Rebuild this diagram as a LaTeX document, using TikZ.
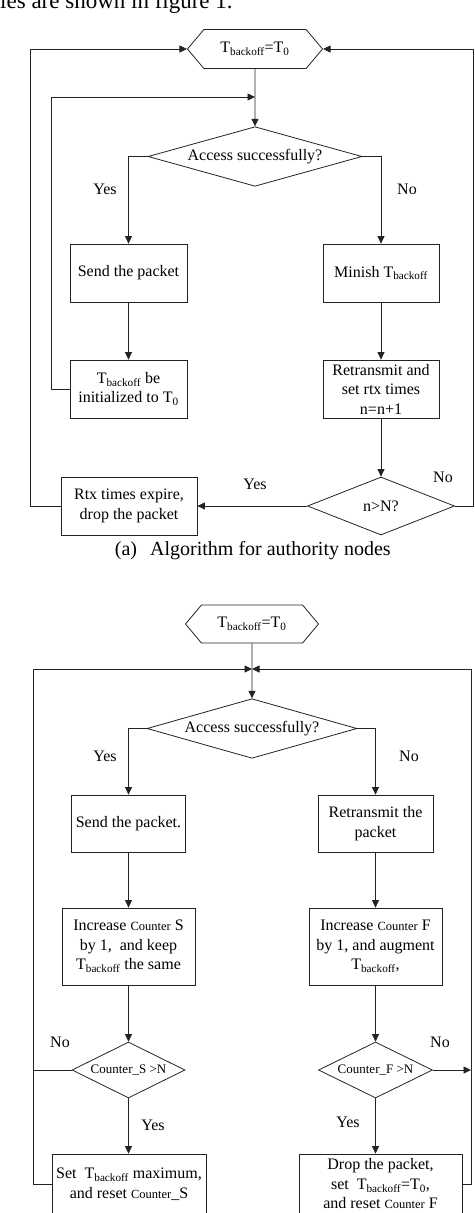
\documentclass[tikz,border=0pt]{standalone}
\usepackage{fontspec}
\setmainfont{Liberation Serif}
\usetikzlibrary{arrows.meta, positioning, shapes.geometric, shapes.symbols}
\definecolor{flowgray}{RGB}{35,35,35}
\newcommand{\Tb}{T\textsubscript{backoff}}
\newcommand{\Tz}{T\textsubscript{0}}
\newcommand{\ctr}{{\fontsize{12.5}{14}\selectfont Counter}}

\begin{document}
\begin{tikzpicture}[x=1pt, y=-1pt, font=\fontsize{16}{19.5}\selectfont,
    procbox/.style={draw=flowgray, line width=0.8pt, align=center, inner sep=1pt},
    decide/.style={diamond, draw=flowgray, line width=0.8pt, align=center, inner sep=0pt, aspect=3},
    startbox/.style={signal, signal to=west and east, signal pointer angle=100,
      draw=flowgray, line width=0.8pt, inner sep=1pt},
    flowarrow/.style={draw=flowgray, line width=0.8pt, -{Triangle[length=7.5pt, width=7pt]}},
    flowline/.style={draw=flowgray, line width=0.8pt},
    lbl/.style={inner sep=0pt}]
  \useasboundingbox (0,0) rectangle (474,1213);
  \clip (0,0) rectangle (474,1213);
  \node[anchor=base west, inner sep=0pt, font=\fontsize{23}{26}\selectfont] (prevtext) at (0,8) {ies are shown in figure 1.};

  % (a) authority nodes
  \node[startbox, minimum width=135pt, minimum height=39pt] (hexA) at (255,49) {\Tb=\Tz};
  \coordinate (jA) at (255,97);
  \node[decide, minimum width=214pt, minimum height=59pt] (accA) at (255,156.5) {Access successfully?};
  \node[procbox, minimum width=117pt, minimum height=58pt] (sendA) at (128.5,273) {Send the packet};
  \node[procbox, minimum width=116pt, minimum height=58pt] (minA) at (381,273) {Minish \Tb};
  \node[procbox, minimum width=117pt, minimum height=58pt] (initA) at (128.5,389) {\Tb{} be\\initialized to \Tz};
  \node[procbox, minimum width=116pt, minimum height=58pt] (retA) at (381,389) {Retransmit and\\set rtx times\\n=n+1};
  \node[decide, minimum width=147pt, minimum height=58pt] (nA) at (381,506) {n>N?};
  \node[procbox, minimum width=136pt, minimum height=58pt] (rtxA) at (129,506) {Rtx times expire,\\drop the packet};
  \coordinate (edgeA) at (473,49);

  \draw[flowarrow] (hexA) -- (accA);
  \draw[flowarrow] (accA.west) -| (sendA.north);
  \draw[flowarrow] (accA.east) -| (minA.north);
  \draw[flowarrow] (sendA) -- (initA);
  \draw[flowarrow] (minA) -- (retA);
  \draw[flowarrow] (retA) -- (nA);
  \draw[flowarrow] (nA) -- (rtxA);
  \draw[flowarrow] (initA.west) -- ++(-18,0) |- (jA);
  \draw[flowarrow] (rtxA.west) -- ++(-30,0) |- (hexA.west);
  \draw[flowarrow] (nA.east) -| (edgeA) -- (hexA.east);
  \node[lbl] (yesA1) at (105,189) {Yes};
  \node[lbl] (noA1) at (407,189) {No};
  \node[lbl] (yesA2) at (255,484) {Yes};
  \node[lbl] (noA2) at (443,477) {No};

  \node[lbl, font=\fontsize{20}{22}\selectfont] (capTag) at (126,551) {(a)};
  \node[lbl, anchor=west, font=\fontsize{20}{22}\selectfont] (capText) at (150,551) {Algorithm for authority nodes};

  % (b)
  \node[startbox, minimum width=133pt, minimum height=38pt] (hexB) at (252,624) {\Tb=\Tz};
  \coordinate (jB) at (252,669);
  \coordinate (loopL) at (33,669);
  \coordinate (loopR) at (471,669);
  \node[decide, minimum width=210pt, minimum height=57pt] (accB) at (252,728.5) {Access successfully?};
  \node[procbox, minimum width=114pt, minimum height=57pt] (sendB) at (128.5,823.5) {Send the packet.};
  \node[procbox, minimum width=115pt, minimum height=57pt] (retB) at (375.5,823.5) {Retransmit the\\packet};
  \node[procbox, minimum width=133pt, minimum height=77pt] (incS) at (128.5,946.5) {Increase \ctr{} S\\by 1,~ and keep\\\Tb{} the same};
  \node[procbox, minimum width=133pt, minimum height=77pt] (incF) at (375.5,946.5) {Increase \ctr{} F\\by 1, and augment\\\Tb,};
  \node[decide, minimum width=113pt, minimum height=56pt, font=\fontsize{13}{15}\selectfont] (cS) at (128.5,1070) {Counter\_S >N};
  \node[decide, minimum width=114pt, minimum height=56pt, font=\fontsize{13}{15}\selectfont] (cF) at (375.5,1070) {Counter\_F >N};
  \node[procbox, minimum width=154pt, minimum height=60pt] (setB) at (129,1184) {Set~ \Tb{} maximum,\\and reset \ctr\_S};
  \node[procbox, minimum width=163pt, minimum height=60pt] (dropB) at (380.5,1184) {Drop the packet,\\set~ \Tb=\Tz,\\and reset \ctr{} F};

  \draw[flowarrow] (hexB) -- (accB);
  \draw[flowarrow] (accB.west) -| (sendB.north);
  \draw[flowarrow] (accB.east) -| (retB.north);
  \draw[flowarrow] (sendB) -- (incS);
  \draw[flowarrow] (retB) -- (incF);
  \draw[flowarrow] (incS) -- (cS);
  \draw[flowarrow] (incF) -- (cF);
  \draw[flowarrow] (cS) -- (cS |- setB.north);
  \draw[flowarrow] (cF) -- (cF |- dropB.north);
  \draw[flowline] (cS.west) -- (cS.west -| loopL);
  \draw[flowarrow] (cF.east) -- (cF.east -| loopR);
  \draw[flowarrow] (setB.west) -| (loopL) -- (jB);
  \draw[flowarrow] (dropB.east) -| (loopR) -- (jB);
  \node[lbl] (yesB1) at (105,756) {Yes};
  \node[lbl] (noB1) at (409,756) {No};
  \node[lbl] (noB2) at (60,1042) {No};
  \node[lbl] (noB3) at (440,1042) {No};
  \node[lbl] (yesB2) at (153,1125) {Yes};
  \node[lbl] (yesB3) at (348,1122) {Yes};
\end{tikzpicture}
\end{document}
